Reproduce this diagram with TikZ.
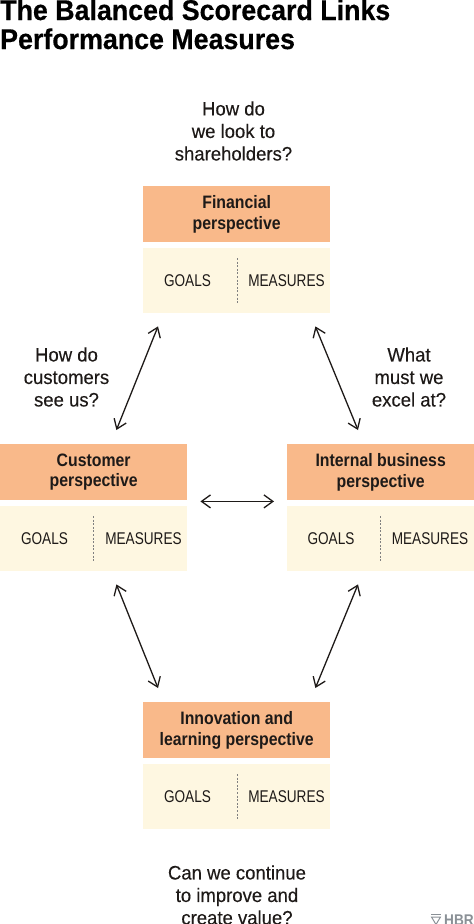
\documentclass[tikz,border=0pt]{standalone}
\usepackage{fontspec}
\setmainfont[FakeStretch=0.88]{Liberation Sans}
\newfontfamily\titlefont[UprightFont=* Bold,FakeStretch=0.94,FakeBold=0.4]{Liberation Sans}
\newfontfamily\cellfont[FakeStretch=0.80]{Liberation Sans}
\newfontfamily\askfont[FakeStretch=0.95,FakeBold=0.25]{Liberation Sans}
\definecolor{headfill}{HTML}{F9B98A}
\definecolor{bodyfill}{HTML}{FEF7E1}
\definecolor{ink}{HTML}{1E1A18}
\definecolor{logogrey}{HTML}{8A9096}
\usetikzlibrary{arrows.meta}
\tikzset{
  headbox/.style={fill=headfill,draw=none,anchor=north west,minimum width=187pt,minimum height=56pt,inner sep=0pt,
    align=center,text=ink,font=\fontsize{18}{20.5}\selectfont\bfseries},
  bodybox/.style={fill=bodyfill,draw=none,anchor=north west,minimum width=187pt,minimum height=65pt,inner sep=0pt},
  cell/.style={text=ink,font=\cellfont\fontsize{17}{20}\selectfont,inner sep=0pt},
  question/.style={text=ink,align=center,font=\askfont\fontsize{19.5}{22.5}\selectfont,inner sep=0pt},
  titleline/.style={text=black,anchor=base west,inner sep=0pt,font=\titlefont\fontsize{28.5}{30}\selectfont},
  divider/.style={draw=black!50,line width=0.7pt,dash pattern=on 2pt off 1.6pt},
  link/.style={draw=ink,line width=1.3pt,{Straight Barb[length=9pt,width=13pt,line width=1.3pt]}-{Straight Barb[length=9pt,width=13pt,line width=1.3pt]}}
}
\begin{document}
\begin{tikzpicture}[x=1pt,y=-1pt]
\useasboundingbox (0,0) rectangle (474,924);
\node[titleline] (t1) at (0,20) {The Balanced Scorecard Links};
\node[titleline] (t2) at (0,49) {Performance Measures};

\node[question] (q1) at (233.5,131) {How do\\we look to\\shareholders?};
\node[question] (q2) at (66.5,377) {How do\\customers\\see us?};
\node[question] (q3) at (409,377) {What\\must we\\excel at?};
\node[question] (q4) at (237,895) {Can we continue\\to improve and\\create value?};

% Financial
\node[headbox] (fh) at (143,186) {Financial\\perspective};
\node[bodybox] (fb) at (143,248) {};
\node[cell] (fg) at (187.5,280.5) {GOALS};
\node[cell] (fm) at (286.5,280.5) {MEASURES};
\coordinate (fd1) at (237,258); \coordinate (fd2) at (237,303);
\draw[divider] (fd1) -- (fd2);

% Customer
\node[headbox] (ch) at (0,444) {Customer\\perspective};
\node[bodybox] (cb) at (0,506) {};
\node[cell] (cg) at (44.5,538.5) {GOALS};
\node[cell] (cm) at (143.5,538.5) {MEASURES};
\coordinate (cd1) at (93.5,516); \coordinate (cd2) at (93.5,561);
\draw[divider] (cd1) -- (cd2);

% Internal
\node[headbox] (ih) at (287,444) {Internal business\\perspective};
\node[bodybox] (ib) at (287,506) {};
\node[cell] (ig) at (331,538.5) {GOALS};
\node[cell] (im) at (430,538.5) {MEASURES};
\coordinate (id1) at (380.5,516); \coordinate (id2) at (380.5,561);
\draw[divider] (id1) -- (id2);

% Innovation
\node[headbox] (lh) at (143,702) {Innovation and\\learning perspective};
\node[bodybox] (lb) at (143,764) {};
\node[cell] (lg) at (187.5,796.5) {GOALS};
\node[cell] (lm) at (286.5,796.5) {MEASURES};
\coordinate (ld1) at (237,774); \coordinate (ld2) at (237,819);
\draw[divider] (ld1) -- (ld2);

% Connectors
\draw[link] ([shift={(15,13)}]fb.south west) -- ([shift={(-71,-14)}]ch.north east);
\draw[link] ([shift={(-15,13)}]fb.south east) -- ([shift={(71,-14)}]ih.north west);
\draw[link] ([shift={(13,1)}]ch.south east) -- ([shift={(-13,1)}]ih.south west);
\draw[link] ([shift={(-71,13)}]cb.south east) -- ([shift={(15,-14)}]lh.north west);
\draw[link] ([shift={(71,13)}]ib.south west) -- ([shift={(-15,-14)}]lh.north east);

% Logo
\draw[logogrey,line width=1pt] (431,914.5) -- (441,914.5);
\draw[logogrey,line width=1pt] (431.5,917) -- (440.5,917) -- (436,924.5) -- cycle;
\node[anchor=base west,inner sep=0pt,text=logogrey,font=\fontsize{15.5}{16}\selectfont\bfseries] (logo) at (444,925.5) {HBR};
\end{tikzpicture}
\end{document}
